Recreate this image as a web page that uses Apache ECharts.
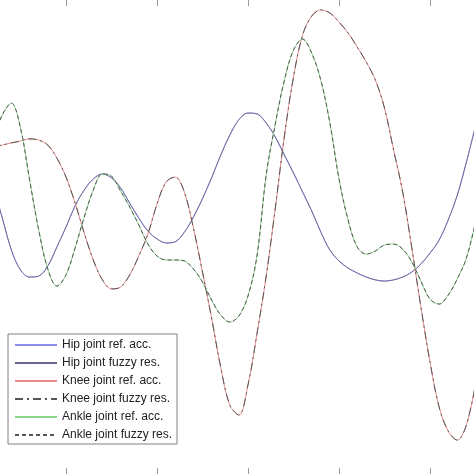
<!DOCTYPE html>
<html>
<head>
<meta charset="utf-8">
<script src="https://cdn.jsdelivr.net/npm/echarts@6/dist/echarts.min.js"></script>
<style>
html, body { margin: 0; padding: 0; background: #fff; overflow: hidden; }
#chart { width: 474px; height: 474px; }
</style>
</head>
<body>
<div id="chart"></div>
<script>
// time axis (arbitrary units, one tick per unit)
var time = [0.2, 0.3, 0.4, 0.5, 0.6, 0.7, 0.8, 0.9, 1.0, 1.1,
    1.2, 1.3, 1.4, 1.5, 1.6, 1.7, 1.8, 1.9, 2.0, 2.1,
    2.2, 2.3, 2.4, 2.5, 2.6, 2.7, 2.8, 2.9, 3.0, 3.1,
    3.2, 3.3, 3.4, 3.5, 3.6, 3.7, 3.8, 3.9, 4.0, 4.1,
    4.2, 4.3, 4.4, 4.5, 4.6, 4.7, 4.8, 4.9, 5.0, 5.1,
    5.2, 5.3, 5.4, 5.5];
var xTicks = [1, 2, 3, 4, 5];
var xRange = [0.2747, 5.4835];

// 髋关节 / 膝关节 / 踝关节 参考加速度
var hipRef = [2.15, 0.80, -0.55, -1.39, -1.69, -1.65, -1.22, -0.42, 0.42, 1.31,
    1.98, 2.45, 2.66, 2.49, 2.07, 1.43, 0.80, 0.25, -0.08, -0.25,
    -0.20, 0.20, 0.84, 1.62, 2.50, 3.45, 4.30, 4.95, 5.23, 5.19,
    4.81, 4.22, 3.46, 2.70, 1.90, 1.10, 0.21, -0.55, -1.01, -1.31,
    -1.52, -1.69, -1.81, -1.86, -1.81, -1.69, -1.48, -1.14, -0.68, -0.13,
    0.72, 1.77, 3.16, 4.68];
var kneeRef = [3.80, 3.88, 3.97, 4.05, 4.14, 4.09, 3.88, 3.33, 2.53, 1.43,
    0.17, -0.97, -1.81, -2.19, -2.11, -1.60, -0.80, 0.13, 1.39, 2.32,
    2.53, 1.90, 0.38, -1.48, -3.42, -5.49, -7.09, -7.51, -6.24, -4.05,
    -1.65, 1.22, 4.26, 6.75, 8.52, 9.32, 9.58, 9.45, 9.07, 8.61,
    8.02, 7.38, 6.62, 5.44, 3.67, 1.90, -0.46, -2.95, -5.27, -7.17,
    -8.19, -8.57, -7.93, -6.20];
var ankleRef = [4.09, 5.15, 5.65, 4.60, 2.41, 0.30, -1.35, -2.07, -1.60, -0.46,
    0.84, 1.98, 2.66, 2.57, 1.94, 1.27, 0.51, -0.30, -0.80, -0.97,
    -0.97, -1.01, -1.35, -1.90, -2.66, -3.29, -3.59, -3.33, -2.49, -0.76,
    2.62, 4.77, 6.62, 7.89, 8.35, 7.76, 6.62, 4.81, 2.45, 0.72,
    -0.42, -0.72, -0.59, -0.34, -0.30, -0.51, -1.05, -1.86, -2.62, -2.83,
    -2.45, -1.77, -0.89, 0.63];
// 模糊控制结果与参考值几乎重合
var hipRes = hipRef;
var kneeRes = kneeRef;
var ankleRes = ankleRef;

var names = ['Hip joint ref. acc.', 'Hip joint fuzzy res.',
    'Knee joint ref. acc.', 'Knee joint fuzzy res.',
    'Ankle joint ref. acc.', 'Ankle joint fuzzy res.'];

function pairs(ys) {
    var out = [];
    for (var i = 0; i < ys.length; i++) {
        out.push([time[i], ys[i]]);
    }
    return out;
}

function line(name, ys, color, type, width) {
    return {
        name: name,
        type: 'line',
        data: pairs(ys),
        symbol: 'none',
        smooth: 0.35,
        clip: true,
        lineStyle: { color: color, width: width, type: type },
        itemStyle: { color: color }
    };
}

var chart = echarts.init(document.getElementById('chart'));

var tickAxis = {
    type: 'value',
    min: xRange[0],
    max: xRange[1],
    axisLine: { show: false, onZero: false },
    axisTick: { show: true, inside: true, length: 6, customValues: xTicks,
        lineStyle: { color: '#999', width: 1 } },
    axisLabel: { show: false },
    splitLine: { show: false }
};

var option = {
    backgroundColor: '#fff',
    animation: false,
    grid: { left: 0, right: 0, top: 0, bottom: 0 },
    xAxis: [
        Object.assign({ position: 'bottom' }, tickAxis),
        Object.assign({ position: 'top' }, tickAxis)
    ],
    yAxis: {
        type: 'value',
        min: -10,
        max: 10,
        show: false
    },
    legend: {
        orient: 'vertical',
        left: 8,
        top: 334,
        data: names,
        itemWidth: 42,
        itemHeight: 12,
        itemGap: 6,
        padding: [5, 5, 3, 6],
        borderColor: '#808080',
        borderWidth: 1,
        borderRadius: 0,
        backgroundColor: '#fff',
        itemStyle: { opacity: 0 },
        textStyle: { fontFamily: 'Liberation Sans', fontSize: 12, color: '#222', lineHeight: 12 }
    },
    series: [
        line(names[0], hipRef, '#8c8ce6', 'solid', 1),
        line(names[1], hipRes, '#64648c', 'solid', 0.8),
        line(names[2], kneeRef, '#e68c8c', 'solid', 1),
        line(names[3], kneeRes, '#555', [8, 4, 2, 4], 1),
        line(names[4], ankleRef, '#8cd68c', 'solid', 1),
        line(names[5], ankleRes, '#555', [4, 3], 1)
    ]
};
chart.setOption(option);
</script>
</body>
</html>
